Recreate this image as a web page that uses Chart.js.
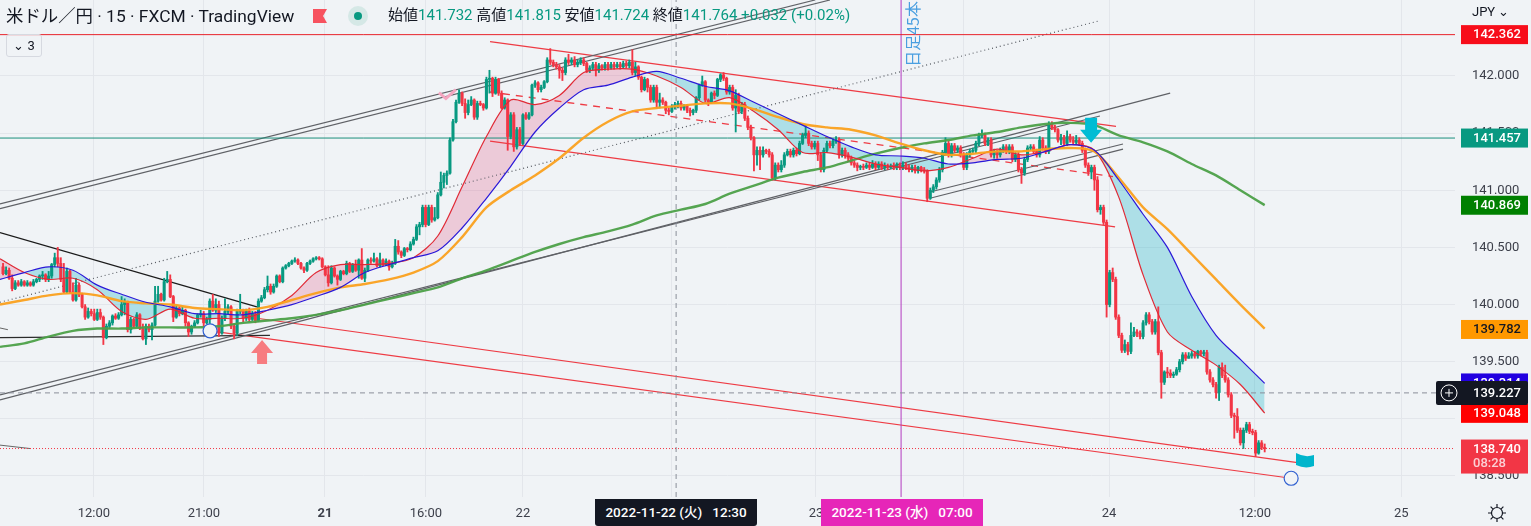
<!DOCTYPE html>
<html>
<head>
<meta charset="utf-8">
<title>USDJPY 15</title>
<script src="https://cdn.jsdelivr.net/npm/chart.js@4/dist/chart.umd.js"></script>
<style>
  html, body { margin: 0; padding: 0; background: #f0f3f6; overflow: hidden; }
  #wrap { position: relative; width: 1531px; height: 526px; font-family: Roboto, "Noto Sans CJK JP", sans-serif; color: #131722; }
  canvas { position: absolute; left: 0; top: 0; }
  .abs { position: absolute; white-space: pre; }
  .up { color: #089981; }
  .pill { top: 499px; height: 27px; line-height: 27px; width: 162px; text-align: center; color: #fff; font-size: 13.5px; font-weight: 500; }
</style>
</head>
<body>
<div id="wrap">
  <canvas id="chart" width="1531" height="526"></canvas>
  <div class="abs" style="left:6px;top:5px;font-size:17.4px;line-height:22px;">米ドル／円 · 15 · FXCM · TradingView</div>
  <div class="abs" style="left:313px;top:9px;width:14px;height:14px;background:#f7525f;clip-path:polygon(0 0,100% 0,72% 50%,100% 100%,0 100%);"></div>
  <div class="abs" style="left:348px;top:6px;width:20px;height:20px;border-radius:50%;background:#d5e8e6;"></div>
  <div class="abs" style="left:354px;top:12px;width:8px;height:8px;border-radius:50%;background:#089981;"></div>
  <div class="abs" style="left:388px;top:5px;font-size:15px;line-height:20px;">始値<span class="up">141.732</span> 高値<span class="up">141.815</span> 安値<span class="up">141.724</span> 終値<span class="up">141.764 +0.032 (+0.02%)</span></div>
  <div class="abs" style="left:6px;top:34px;width:34px;height:21px;border:1px solid #d6d9e0;border-radius:3px;font-size:13px;line-height:21px;text-align:center;">⌄ 3</div>
  <div class="abs" style="left:1472px;top:3px;font-size:13px;line-height:18px;">JPY ⌄</div>
  <div class="abs pill" style="left:595px;background:#131722;border-radius:0 0 3px 3px;">2022-11-22 (火)   12:30</div>
  <div class="abs pill" style="left:821px;background:#e626b8;">2022-11-23 (水)   07:00</div>
  <svg class="abs" style="left:1487px;top:503px;" width="20" height="20" viewBox="0 0 20 20" fill="none" stroke="#131722" stroke-width="1.2">
    <circle cx="10" cy="10" r="5.5"/><path d="M10 1v3M10 16v3M1 10h3M16 10h3M3.6 3.6l2.2 2.2M14.2 14.2l2.2 2.2M16.4 3.6l-2.2 2.2M5.8 14.2l-2.2 2.2"/>
  </svg>
</div>
<script>
// candles, one value per 15 min bar
var opens = [
140.33,140.27,140.30,140.23,140.14,140.19,140.17,140.20,140.17,140.19,140.17,140.20,140.22,140.25,140.26,140.22,140.25,140.35,140.41,140.36,
140.22,140.11,140.29,140.11,140.04,140.17,140.09,139.98,139.89,139.94,139.92,139.87,139.93,139.89,139.71,139.81,139.84,139.90,139.88,139.91,
140.00,140.02,139.78,139.87,139.81,139.91,139.79,139.70,139.81,139.78,139.82,140.03,140.09,140.04,140.20,140.22,140.07,139.89,139.97,139.92,
139.95,139.84,139.76,139.81,139.84,139.91,139.92,139.84,139.87,140.03,139.95,140.00,139.75,139.88,139.94,139.98,139.81,139.75,139.94,139.95,
139.88,139.94,139.87,139.92,139.86,140.03,140.06,140.13,140.16,140.11,140.16,140.25,140.20,140.32,140.34,140.36,140.38,140.39,140.36,140.32,
140.30,140.36,140.38,140.40,140.41,140.40,140.33,140.26,140.19,140.32,140.25,140.22,140.29,140.27,140.36,140.29,140.35,140.30,140.39,140.23,
140.30,140.39,140.38,140.40,140.34,140.39,140.35,140.38,140.33,140.36,140.51,140.46,140.43,140.49,140.48,140.53,140.57,140.68,140.70,140.85,
140.70,140.85,140.74,140.76,140.96,141.07,141.13,141.15,141.44,141.60,141.77,141.85,141.76,141.68,141.75,141.79,141.64,141.76,141.75,141.72,
141.97,141.98,141.85,141.97,141.85,141.72,141.79,141.47,141.66,141.38,141.53,141.41,141.66,141.63,141.66,141.92,141.94,141.88,141.90,141.95,
142.14,142.12,142.10,142.08,142.05,142.03,142.14,142.12,142.14,142.10,142.12,142.14,142.11,142.05,142.07,142.10,142.05,142.09,142.07,142.10,
142.07,142.10,142.08,142.10,142.08,142.11,142.09,142.12,142.03,142.08,141.99,141.88,141.97,141.90,141.79,141.90,141.77,141.79,141.77,141.70,
141.69,141.73,141.75,141.76,141.72,141.74,141.70,141.68,141.70,141.81,141.92,141.95,141.79,141.77,141.85,141.83,141.97,142.01,141.98,141.86,
141.90,141.72,141.83,141.69,141.75,141.63,141.55,141.46,141.31,141.35,141.31,141.35,141.34,141.31,141.11,141.22,141.18,141.22,141.31,141.34,
141.31,141.35,141.32,141.41,141.48,141.50,141.41,141.38,141.41,141.31,141.18,141.35,141.41,141.39,141.43,141.44,141.31,141.35,141.31,141.28,
141.24,141.22,141.20,141.21,141.20,141.22,141.20,141.23,141.20,141.23,141.20,141.21,141.20,141.21,141.20,141.22,141.20,141.22,141.20,141.18,
141.20,141.17,141.20,141.18,141.17,140.93,141.00,141.03,141.09,141.18,141.33,141.41,141.31,141.39,141.35,141.37,141.31,141.20,141.31,141.34,
141.35,141.41,141.48,141.48,141.41,141.44,141.31,141.34,141.31,141.35,141.38,141.34,141.38,141.27,141.31,141.18,141.15,141.27,141.37,141.38,
141.34,141.31,141.44,141.37,141.34,141.57,141.55,141.53,141.44,141.46,141.41,141.47,141.44,141.42,141.44,141.41,141.35,141.22,141.16,141.20,
141.09,140.83,140.85,140.72,140.00,140.28,140.22,139.89,139.73,139.60,139.65,139.59,139.73,139.76,139.75,139.72,139.84,139.91,139.85,139.76,
139.85,139.58,139.32,139.41,139.40,139.38,139.39,139.43,139.50,139.56,139.53,139.55,139.57,139.55,139.59,139.57,139.58,139.41,139.34,139.30,
139.23,139.45,139.38,139.34,139.21,139.03,139.02,138.90,138.79,138.90,138.95,138.89,138.88,138.70,138.79,138.75
];
var closes = [
140.27,140.30,140.23,140.14,140.19,140.17,140.20,140.17,140.19,140.17,140.20,140.22,140.25,140.26,140.22,140.25,140.35,140.41,140.36,140.22,
140.11,140.29,140.11,140.04,140.17,140.09,139.98,139.89,139.94,139.92,139.87,139.93,139.89,139.71,139.81,139.84,139.90,139.88,139.91,140.00,
140.02,139.78,139.87,139.81,139.91,139.79,139.70,139.81,139.78,139.82,140.03,140.09,140.04,140.20,140.22,140.07,139.89,139.97,139.92,139.95,
139.84,139.76,139.81,139.84,139.91,139.92,139.84,139.87,140.03,139.95,140.00,139.75,139.88,139.94,139.98,139.81,139.75,139.94,139.95,139.88,
139.94,139.87,139.92,139.86,140.03,140.06,140.13,140.16,140.11,140.16,140.25,140.20,140.32,140.34,140.36,140.38,140.39,140.36,140.32,140.30,
140.36,140.38,140.40,140.41,140.40,140.33,140.26,140.19,140.32,140.25,140.22,140.29,140.27,140.36,140.29,140.35,140.30,140.39,140.23,140.30,
140.39,140.38,140.40,140.34,140.39,140.35,140.38,140.33,140.36,140.51,140.46,140.43,140.49,140.48,140.53,140.57,140.68,140.70,140.85,140.70,
140.85,140.74,140.76,140.96,141.07,141.13,141.15,141.44,141.60,141.77,141.85,141.76,141.68,141.75,141.79,141.64,141.76,141.75,141.72,141.97,
141.98,141.85,141.97,141.85,141.72,141.79,141.47,141.66,141.38,141.53,141.41,141.66,141.63,141.66,141.92,141.94,141.88,141.90,141.95,142.14,
142.12,142.10,142.08,142.05,142.03,142.14,142.12,142.14,142.10,142.12,142.14,142.11,142.05,142.07,142.10,142.05,142.09,142.07,142.10,142.07,
142.10,142.08,142.10,142.08,142.11,142.09,142.12,142.03,142.08,141.99,141.88,141.97,141.90,141.79,141.90,141.77,141.79,141.77,141.70,141.69,
141.73,141.75,141.76,141.72,141.74,141.70,141.68,141.70,141.81,141.92,141.95,141.79,141.77,141.85,141.83,141.97,142.01,141.98,141.86,141.90,
141.72,141.83,141.69,141.75,141.63,141.55,141.46,141.31,141.35,141.31,141.35,141.34,141.31,141.11,141.22,141.18,141.22,141.31,141.34,141.31,
141.35,141.32,141.41,141.48,141.50,141.41,141.38,141.41,141.31,141.18,141.35,141.41,141.39,141.43,141.44,141.31,141.35,141.31,141.28,141.24,
141.22,141.20,141.21,141.20,141.22,141.20,141.23,141.20,141.23,141.20,141.21,141.20,141.21,141.20,141.22,141.20,141.22,141.20,141.18,141.20,
141.17,141.20,141.18,141.17,140.93,141.00,141.03,141.09,141.18,141.33,141.41,141.31,141.39,141.35,141.37,141.31,141.20,141.31,141.34,141.35,
141.41,141.48,141.48,141.41,141.44,141.31,141.34,141.31,141.35,141.38,141.34,141.38,141.27,141.31,141.18,141.15,141.27,141.37,141.38,141.34,
141.31,141.44,141.37,141.34,141.57,141.55,141.53,141.44,141.46,141.41,141.47,141.44,141.42,141.44,141.41,141.35,141.22,141.16,141.20,141.09,
140.83,140.85,140.72,140.00,140.28,140.22,139.89,139.73,139.60,139.65,139.59,139.73,139.76,139.75,139.72,139.84,139.91,139.85,139.76,139.85,
139.58,139.32,139.41,139.40,139.38,139.39,139.43,139.50,139.56,139.53,139.55,139.57,139.55,139.59,139.57,139.58,139.41,139.34,139.30,139.23,
139.45,139.38,139.34,139.21,139.03,139.02,138.90,138.79,138.90,138.95,138.89,138.88,138.70,138.79,138.75,138.74
];
var highs = [
140.36,140.33,140.32,140.26,140.21,140.21,140.22,140.21,140.21,140.20,140.22,140.23,140.26,140.29,140.27,140.29,140.36,140.45,140.50,140.41,
140.36,140.32,140.30,140.19,140.23,140.19,140.10,140.00,139.97,139.96,139.96,139.96,139.96,139.90,139.83,139.86,139.91,139.92,139.93,140.07,
140.05,140.03,139.89,139.88,139.93,139.92,139.83,139.83,139.83,139.84,140.16,140.16,140.10,140.23,140.29,140.26,140.08,139.99,139.98,139.98,
139.96,139.85,139.82,139.86,139.92,139.95,139.94,139.89,140.05,140.09,140.05,140.03,139.90,140.05,140.00,139.99,139.83,139.96,140.09,139.96,
139.96,139.97,139.94,139.94,140.05,140.08,140.15,140.25,140.18,140.18,140.26,140.26,140.33,140.35,140.37,140.39,140.41,140.40,140.37,140.33,
140.37,140.39,140.41,140.42,140.42,140.41,140.34,140.34,140.34,140.33,140.26,140.30,140.30,140.38,140.37,140.36,140.39,140.40,140.49,140.32,
140.40,140.41,140.45,140.41,140.45,140.40,140.40,140.39,140.38,140.57,140.56,140.47,140.50,140.50,140.55,140.59,140.70,140.72,140.87,140.87,
140.87,140.87,140.85,140.98,141.16,141.15,141.17,141.46,141.62,141.79,141.88,141.86,141.80,141.79,141.82,141.80,141.78,141.78,141.76,141.99,
142.05,141.99,141.99,141.98,141.87,141.81,141.80,141.68,141.68,141.55,141.55,141.67,141.68,141.68,141.93,141.96,141.95,141.92,141.96,142.16,
142.24,142.14,142.12,142.10,142.07,142.16,142.19,142.16,142.17,142.14,142.16,142.16,142.12,142.09,142.12,142.12,142.11,142.10,142.12,142.12,
142.12,142.12,142.12,142.12,142.13,142.13,142.14,142.23,142.12,142.09,142.00,141.99,141.98,141.92,141.92,141.92,141.85,141.81,141.78,141.72,
141.75,141.77,141.78,141.78,141.75,141.75,141.72,141.71,141.82,141.93,142.00,141.96,141.80,141.86,141.87,141.98,142.02,142.03,141.99,141.92,
141.92,141.88,141.85,141.77,141.77,141.65,141.57,141.47,141.38,141.38,141.38,141.36,141.36,141.33,141.24,141.24,141.26,141.33,141.36,141.36,
141.37,141.37,141.43,141.50,141.57,141.52,141.43,141.43,141.43,141.33,141.37,141.43,141.43,141.45,141.47,141.46,141.37,141.37,141.33,141.30,
141.26,141.24,141.22,141.23,141.24,141.24,141.26,141.25,141.25,141.25,141.24,141.23,141.23,141.24,141.24,141.24,141.25,141.24,141.22,141.22,
141.22,141.21,141.21,141.20,141.18,141.02,141.05,141.11,141.20,141.35,141.46,141.43,141.41,141.41,141.39,141.39,141.33,141.33,141.36,141.37,
141.43,141.50,141.53,141.50,141.46,141.46,141.36,141.35,141.37,141.40,141.40,141.40,141.40,141.33,141.33,141.20,141.29,141.39,141.40,141.40,
141.36,141.47,141.46,141.39,141.60,141.60,141.57,141.54,141.49,141.48,141.52,141.49,141.47,141.48,141.46,141.43,141.37,141.24,141.22,141.22,
141.12,140.87,140.87,140.74,140.30,140.32,140.24,139.91,139.75,139.69,139.67,139.84,139.80,139.78,139.77,139.86,139.93,139.93,139.87,139.87,
139.98,139.60,139.42,139.45,139.43,139.41,139.45,139.52,139.58,139.58,139.58,139.59,139.59,139.60,139.60,139.60,139.60,139.43,139.36,139.32,
139.47,139.49,139.47,139.36,139.23,139.05,139.09,138.92,138.92,138.97,138.97,138.91,138.90,138.81,138.81,138.78
];
var lows = [
140.26,140.26,140.22,140.12,140.13,140.16,140.16,140.16,140.16,140.16,140.16,140.19,140.20,140.22,140.20,140.20,140.23,140.33,140.33,140.20,
140.10,140.10,140.10,140.03,140.03,140.07,139.97,139.87,139.88,139.90,139.86,139.86,139.87,139.65,139.70,139.79,139.82,139.87,139.87,139.90,
139.91,139.76,139.75,139.80,139.80,139.78,139.69,139.65,139.76,139.69,139.81,140.02,140.03,140.03,140.19,140.06,139.85,139.88,139.90,139.91,
139.81,139.72,139.74,139.80,139.83,139.89,139.81,139.83,139.83,139.94,139.93,139.72,139.74,139.86,139.92,139.79,139.70,139.73,139.92,139.85,
139.86,139.85,139.86,139.84,139.85,140.02,140.05,140.11,140.09,140.10,140.15,140.19,140.19,140.31,140.33,140.35,140.37,140.35,140.31,140.28,
140.29,140.35,140.37,140.39,140.39,140.32,140.25,140.16,140.18,140.24,140.17,140.21,140.26,140.26,140.28,140.28,140.29,140.23,140.22,140.20,
140.29,140.36,140.37,140.33,140.33,140.34,140.34,140.30,140.32,140.35,140.44,140.41,140.42,140.46,140.47,140.52,140.56,140.61,140.68,140.68,
140.69,140.72,140.73,140.75,140.95,141.02,141.05,141.14,141.43,141.59,141.76,141.74,141.63,141.66,141.74,141.62,141.62,141.74,141.70,141.71,
141.85,141.82,141.84,141.83,141.71,141.71,141.35,141.45,141.34,141.36,141.39,141.40,141.62,141.62,141.65,141.90,141.86,141.86,141.89,141.94,
142.10,142.08,142.06,141.98,141.96,142.01,142.10,142.10,142.08,142.08,142.10,142.09,142.03,142.03,142.05,142.00,142.03,142.05,142.05,142.05,
142.06,142.06,142.07,142.06,142.07,142.07,142.07,142.01,142.00,141.97,141.86,141.87,141.86,141.77,141.77,141.72,141.72,141.75,141.67,141.66,
141.68,141.71,141.72,141.70,141.70,141.68,141.65,141.66,141.68,141.79,141.91,141.77,141.74,141.76,141.80,141.82,141.95,141.96,141.84,141.84,
141.70,141.51,141.67,141.67,141.61,141.53,141.44,141.17,141.22,141.18,141.29,141.32,141.29,141.09,141.09,141.16,141.16,141.20,141.30,141.29,
141.29,141.30,141.31,141.40,141.46,141.39,141.36,141.36,141.26,141.16,141.16,141.33,141.37,141.37,141.41,141.28,141.29,141.28,141.25,141.22,
141.20,141.17,141.18,141.18,141.19,141.18,141.19,141.18,141.19,141.18,141.18,141.18,141.19,141.18,141.18,141.18,141.18,141.18,141.16,141.16,
141.15,141.15,141.16,141.15,140.90,140.92,140.98,141.01,141.07,141.16,141.31,141.29,141.29,141.33,141.33,141.29,141.18,141.18,141.29,141.33,
141.33,141.39,141.46,141.39,141.39,141.29,141.28,141.28,141.29,141.33,141.32,141.32,141.25,141.25,141.16,141.06,141.13,141.25,141.35,141.32,
141.29,141.29,141.35,141.32,141.32,141.53,141.51,141.42,141.40,141.39,141.39,141.42,141.40,141.40,141.39,141.33,141.20,141.13,141.10,141.00,
140.81,140.79,140.70,139.89,139.98,140.20,139.87,139.71,139.58,139.58,139.56,139.57,139.72,139.72,139.70,139.70,139.82,139.83,139.74,139.74,
139.56,139.18,139.30,139.36,139.36,139.36,139.38,139.41,139.48,139.51,139.53,139.53,139.53,139.53,139.55,139.55,139.39,139.32,139.28,139.18,
139.16,139.36,139.32,139.19,139.01,138.83,138.88,138.77,138.74,138.88,138.87,138.86,138.67,138.69,138.73,138.71
];

// moving averages, read every 8 bars
var maBars = [0,8,16,24,32,40,48,56,64,72,80,88,96,104,112,120,128,136,144,152,160,168,176,184,192,200,208,216,224,232,240,248,256,264,272,280,288,296,304,312,320,328,336,344,352,360,368,376,384,392,400,408,416];
var maRed = [140.40,140.28,140.22,140.23,140.13,139.94,139.87,139.96,139.88,139.88,139.88,139.95,140.08,140.28,140.35,140.35,140.36,140.41,140.60,141.03,141.47,141.79,141.75,141.83,142.03,142.06,142.06,142.00,141.90,141.76,141.81,141.69,141.53,141.33,141.33,141.29,141.23,141.20,141.17,141.20,141.28,141.36,141.31,141.34,141.40,141.35,140.94,140.26,139.76,139.60,139.47,139.30,139.05];
var maBlue = [140.22,140.28,140.33,140.30,140.17,140.09,140.02,139.98,139.92,139.92,139.91,139.95,140.00,140.07,140.15,140.28,140.35,140.41,140.47,140.67,140.93,141.21,141.51,141.72,141.88,141.92,141.99,142.04,141.98,141.91,141.87,141.77,141.67,141.57,141.47,141.38,141.31,141.30,141.28,141.23,141.24,141.27,141.28,141.34,141.40,141.35,141.09,140.79,140.50,140.07,139.73,139.52,139.31];
var maOrange = [140.00,140.04,140.08,140.10,140.08,140.03,140.01,140.00,139.97,139.96,139.95,139.98,140.04,140.10,140.15,140.18,140.22,140.28,140.38,140.59,140.85,141.00,141.13,141.28,141.46,141.60,141.69,141.72,141.74,141.76,141.76,141.71,141.64,141.58,141.55,141.53,141.48,141.41,141.35,141.31,141.32,141.34,141.34,141.36,141.37,141.34,141.11,140.85,140.66,140.44,140.22,140.00,139.79];
var maGreen = [139.63,139.66,139.72,139.77,139.79,139.79,139.80,139.80,139.80,139.81,139.84,139.86,139.88,139.91,139.95,140.00,140.05,140.10,140.15,140.23,140.30,140.38,140.46,140.53,140.59,140.64,140.70,140.78,140.83,140.88,140.97,141.04,141.11,141.16,141.20,141.26,141.32,141.37,141.41,141.44,141.48,141.51,141.55,141.58,141.59,141.57,141.48,141.42,141.34,141.23,141.13,141.00,140.87];

// drawn lines: [bar, price] end points
var grayTop1 = [[0,140.88],[268.1,142.665]];
var grayTop2 = [[0,140.84],[273,142.665]];
var grayLong1 = [[0,139.21],[361.8,141.65]];
var grayLong2 = [[0,139.165],[384.9,141.85]];
var grayShort1 = [[305.9,140.985],[369.4,141.405]];
var grayShort2 = [[305.9,140.93],[369.4,141.36]];
var grayDotted = [[0,140.02],[361.2,142.48]];
var blackFall = [[0,140.63],[84.5,139.98]];
var blackFlat = [[0,139.71],[88.8,139.73]];
var stubOne = [[0,139.795],[2.6,139.78]];
var stubTwo = [[0,138.77],[9.9,138.74]];
var redLongLow = [[69.1,139.77],[424.7,138.48]];
var redLongHigh = [[84.5,139.88],[428.6,138.61]];
var redChanTop = [[161.2,142.30],[367.1,141.56]];
var redChanMid = [[161.2,141.86],[366.1,141.12]];
var redChanLow = [[161.2,141.43],[366.8,140.68]];

var xMax = 478.6, yMin = 138.316, yMax = 142.665;
var levelRed = 142.362, levelTeal = 141.457, lastPrice = 138.74, crossPrice = 139.227;
var crossBar = 222.4, magentaBar = 296.4;

var priceTicks = [138.5,139,139.5,140,140.5,141,141.5,142];
var timeTicks = [30.9,67.1,106.9,140.1,172,221,268.4,316.8,364.8,412.8,460.9];
var timeLabels = ["12:00","21:00","21","16:00","22","16:00","23","16:00","24","12:00","25"];

var circleMarks = [[69.1,139.77],[424.7,138.48]];

// price tags on the axis, drawn in this order
var tagPrices = [142.362,141.457,140.869,139.782,139.314,139.048];
var tagFills = ["#f70d1a","#089981","#008000","#ff9800","#2200e0","#ff0000"];
var tagInks = ["#fff","#fff","#fff","#131722","#fff","#fff"];

var up = "#089981", down = "#f23645";
var candleColors = closes.map(function(c, i) { return c >= opens[i] ? up : down; });

function trend(points, color, width, dash, order) {
  return {
    type: "line",
    data: points.map(function(p) { return { x: p[0], y: p[1] }; }),
    borderColor: color,
    borderWidth: width,
    borderDash: dash || [],
    pointRadius: 0,
    fill: false,
    order: order || 7
  };
}
function maLine(values, color, width, order) {
  return {
    type: "line",
    data: values.map(function(v, i) { return { x: maBars[i], y: v }; }),
    borderColor: color,
    borderWidth: width,
    pointRadius: 0,
    tension: 0.3,
    fill: false,
    order: order
  };
}

var datasets = [
  trend([[0,levelRed],[xMax,levelRed]], "#e8232b", 1),
  trend([[0,levelTeal],[xMax,levelTeal]], "#1a8f7c", 1),
  trend([[0,lastPrice],[xMax,lastPrice]], "#f23645", 1, [1,2]),
  trend([[0,crossPrice],[xMax,crossPrice]], "#8a8e99", 1, [5,4]),
  trend([[crossBar,yMin],[crossBar,yMax]], "#8a8e99", 1, [5,4]),
  trend([[magentaBar,yMin],[magentaBar,yMax]], "#b43bc0", 1),
  trend(grayTop1, "#5f6166", 1.2),
  trend(grayTop2, "#5f6166", 1.2),
  trend(grayLong1, "#5f6166", 1.2),
  trend(grayLong2, "#5f6166", 1.2),
  trend(grayShort1, "#5f6166", 1.2),
  trend(grayShort2, "#5f6166", 1.2),
  trend(grayDotted, "#555960", 1.2, [1,3]),
  trend(blackFall, "#1b1b1b", 1.2),
  trend(blackFlat, "#2b2b2b", 1.2),
  trend(stubOne, "#666", 1),
  trend(stubTwo, "#666", 1),
  trend(redLongLow, "#ee3b44", 1.2),
  trend(redLongHigh, "#ee3b44", 1.2),
  trend(redChanTop, "#ee3b44", 1.3),
  trend(redChanMid, "#ee3b44", 1.3, [7,6]),
  trend(redChanLow, "#ee3b44", 1.3)
];
var blueIndex = datasets.length + 4;
datasets.push(
  {
    type: "bar", grouped: false, barThickness: 1.2, order: 5,
    data: closes.map(function(c, i) { return { x: i + 1, y: [lows[i], highs[i]] }; }),
    backgroundColor: candleColors
  },
  {
    type: "bar", grouped: false, barThickness: 2.4, minBarLength: 1, order: 4,
    data: closes.map(function(c, i) { return { x: i + 1, y: [opens[i], c] }; }),
    backgroundColor: candleColors
  },
  maLine(maGreen, "rgba(76,160,72,0.95)", 2.4, 3),
  {
    type: "line", order: 9, pointRadius: 0, borderWidth: 0, tension: 0.3,
    data: maRed.map(function(v, i) { return { x: maBars[i], y: v }; }),
    fill: { target: blueIndex, above: "rgba(226,70,120,0.24)", below: "rgba(0,172,193,0.28)" }
  },
  maLine(maBlue, "#2a18d8", 1.2, 2),
  maLine(maOrange, "rgba(250,160,30,0.95)", 2.4, 2),
  maLine(maRed, "#e02a36", 1.2, 2),
  {
    type: "line", showLine: false, order: 1,
    data: circleMarks.map(function(p) { return { x: p[0], y: p[1] }; }),
    pointRadius: 7, pointBackgroundColor: "#f0f3f6", pointBorderColor: "#2f5fd0", pointBorderWidth: 1.2
  }
);

function arrowUp(ctx, cx, top, color) {
  ctx.fillStyle = color;
  ctx.beginPath();
  ctx.moveTo(cx, top); ctx.lineTo(cx + 11, top + 13); ctx.lineTo(cx + 5, top + 13);
  ctx.lineTo(cx + 5, top + 24); ctx.lineTo(cx - 5, top + 24); ctx.lineTo(cx - 5, top + 13);
  ctx.lineTo(cx - 11, top + 13); ctx.closePath(); ctx.fill();
}
function arrowDown(ctx, cx, bottom, color) {
  ctx.fillStyle = color;
  ctx.beginPath();
  ctx.moveTo(cx, bottom); ctx.lineTo(cx + 11, bottom - 13); ctx.lineTo(cx + 6, bottom - 13);
  ctx.lineTo(cx + 6, bottom - 25); ctx.lineTo(cx - 6, bottom - 25); ctx.lineTo(cx - 6, bottom - 13);
  ctx.lineTo(cx - 11, bottom - 13); ctx.closePath(); ctx.fill();
}
function tag(ctx, yy, fill, ink, text) {
  ctx.fillStyle = fill;
  ctx.fillRect(1461, yy - 9.5, 67, 19);
  ctx.fillStyle = ink;
  ctx.textAlign = "right"; ctx.textBaseline = "middle";
  ctx.font = "500 13px Roboto";
  ctx.fillText(text, 1521, yy + 0.5);
}

var overlay = {
  id: "overlay",
  afterDatasetsDraw: function(chart) {
    var ctx = chart.ctx, xs = chart.scales.x, ys = chart.scales.y;
    ctx.save();
    arrowUp(ctx, xs.getPixelForValue(86.2), ys.getPixelForValue(139.69), "#f77c80");
    arrowDown(ctx, xs.getPixelForValue(358.9), ys.getPixelForValue(141.415), "#00bcd4");
    // pink marker on the rally
    ctx.strokeStyle = "#f4a6c0"; ctx.lineWidth = 3; ctx.beginPath();
    var cx = xs.getPixelForValue(147), cy = ys.getPixelForValue(141.82);
    ctx.moveTo(cx - 8, cy - 4); ctx.lineTo(cx - 1, cy + 2); ctx.lineTo(cx + 9, cy - 7); ctx.stroke();
    // flag at the end of the line
    var fx = xs.getPixelForValue(426.3), fy = ys.getPixelForValue(138.70);
    ctx.fillStyle = "#00b5cc"; ctx.beginPath();
    ctx.moveTo(fx, fy); ctx.quadraticCurveTo(fx + 9, fy + 5, fx + 18, fy + 2);
    ctx.lineTo(fx + 18, fy + 13); ctx.quadraticCurveTo(fx + 9, fy + 16, fx, fy + 12);
    ctx.closePath(); ctx.fill();
    // label on the magenta line
    ctx.translate(xs.getPixelForValue(magentaBar) + 12, ys.getPixelForValue(142.08));
    ctx.rotate(-Math.PI / 2);
    ctx.fillStyle = "#4a9fe0"; ctx.font = "16px 'Noto Sans CJK JP'";
    ctx.textAlign = "left"; ctx.textBaseline = "middle";
    ctx.fillText("日足45本", 0, 0);
    ctx.restore();
  },
  afterDraw: function(chart) {
    var ctx = chart.ctx, ys = chart.scales.y;
    ctx.save();
    tagPrices.forEach(function(p, i) {
      tag(ctx, ys.getPixelForValue(p), tagFills[i], tagInks[i], p.toFixed(3));
    });
    // crosshair price
    var cy = ys.getPixelForValue(crossPrice);
    ctx.fillStyle = "#131722";
    ctx.beginPath(); ctx.roundRect(1436, cy - 12, 92, 24, 2); ctx.fill();
    ctx.strokeStyle = "#fff"; ctx.lineWidth = 1; ctx.beginPath();
    ctx.arc(1449, cy, 8, 0, Math.PI * 2);
    ctx.moveTo(1445, cy); ctx.lineTo(1453, cy); ctx.moveTo(1449, cy - 4); ctx.lineTo(1449, cy + 4); ctx.stroke();
    ctx.fillStyle = "#fff"; ctx.textAlign = "right"; ctx.textBaseline = "middle"; ctx.font = "500 13px Roboto";
    ctx.fillText(crossPrice.toFixed(3), 1521, cy + 0.5);
    // last price with countdown
    var ly = ys.getPixelForValue(lastPrice);
    ctx.fillStyle = down;
    ctx.fillRect(1461, ly - 9, 67, 34);
    ctx.fillStyle = "#fff";
    ctx.fillText(lastPrice.toFixed(3), 1521, ly + 1);
    ctx.fillStyle = "#fbd0d5"; ctx.textAlign = "left";
    ctx.fillText("08:28", 1473, ly + 15);
    ctx.restore();
  }
};

// no edge padding, the plot runs to the canvas edge
function noEdge(s) {
  s.paddingLeft = 0; s.paddingRight = 0; s.paddingTop = 0; s.paddingBottom = 0;
}

window.onload = function() {
  new Chart(document.getElementById("chart"), {
    type: "bar",
    data: { datasets: datasets },
    plugins: [overlay],
    options: {
      responsive: false,
      animation: false,
      events: [],
      layout: { padding: 0, autoPadding: false },
      plugins: { legend: { display: false }, title: { display: false }, tooltip: { enabled: false } },
      scales: {
        x: {
          type: "linear", min: 0, max: xMax, offset: false,
          afterFit: function(s) { s.height = 29; noEdge(s); },
          afterBuildTicks: function(s) { s.ticks = timeTicks.map(function(v) { return { value: v }; }); },
          grid: { color: "#e3e6eb", drawTicks: false, offset: false },
          border: { display: false },
          ticks: {
            autoSkip: false, maxRotation: 0, padding: 9, color: "#3c3f4a",
            font: function(c) { return { family: "Roboto", size: 13, weight: c.index === 2 ? "bold" : "normal" }; },
            callback: function(v, i) { return timeLabels[i]; }
          }
        },
        y: {
          position: "right", min: yMin, max: yMax,
          afterFit: function(s) { s.width = 76; noEdge(s); },
          afterBuildTicks: function(s) { s.ticks = priceTicks.map(function(v) { return { value: v }; }); },
          grid: { color: "#e3e6eb", drawTicks: false },
          border: { display: false },
          ticks: {
            padding: 17, color: "#3c3f4a", font: { family: "Roboto", size: 13 },
            callback: function(v) { return v.toFixed(3); }
          }
        }
      }
    }
  });
};
</script>
</body>
</html>
